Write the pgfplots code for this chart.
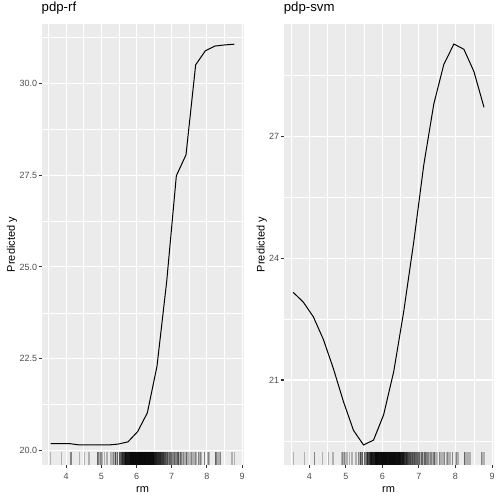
\documentclass[border=0pt]{standalone}
\usepackage{fontspec}
\setmainfont{Liberation Sans}
\usepackage{pgfplots}
\usepackage{pgfplotstable}
\pgfplotsset{compat=1.18}
\definecolor{ggbg}{HTML}{EBEBEB}
\definecolor{gray20}{HTML}{333333}
\definecolor{gray30}{HTML}{4D4D4D}

\pgfplotstableread[row sep=\\]{
rm\\
3.561\\ 3.863\\ 4.138\\ 4.138\\ 4.368\\ 4.519\\ 4.628\\ 4.652\\ 4.880\\ 4.903\\ 4.906\\ 4.926\\ 4.963\\ 4.970\\ 5.000\\ 5.012\\ 5.036\\ 5.093\\ 5.155\\ 5.186\\ 5.272\\ 5.304\\ 5.341\\ 5.344\\ 5.362\\ 5.390\\ 5.403\\ 5.404\\ 5.414\\ 5.427\\ 5.453\\ 5.456\\ 5.468\\
5.505\\ 5.512\\ 5.520\\ 5.531\\ 5.545\\ 5.553\\ 5.569\\ 5.572\\ 5.580\\ 5.588\\ 5.594\\ 5.597\\
5.602\\ 5.605\\ 5.608\\ 5.617\\ 5.627\\ 5.628\\ 5.637\\ 5.642\\ 5.648\\ 5.652\\ 5.655\\ 5.663\\ 5.669\\ 5.671\\ 5.675\\ 5.680\\ 5.683\\ 5.688\\ 5.691\\ 5.693\\ 5.696\\ 5.699\\
5.701\\ 5.705\\ 5.709\\ 5.713\\ 5.717\\ 5.721\\ 5.725\\ 5.729\\ 5.733\\ 5.737\\ 5.741\\ 5.745\\ 5.749\\ 5.753\\ 5.757\\ 5.761\\ 5.765\\ 5.769\\ 5.773\\ 5.777\\ 5.781\\ 5.785\\ 5.789\\ 5.793\\ 5.797\\
5.802\\ 5.805\\ 5.808\\ 5.811\\ 5.814\\ 5.817\\ 5.820\\ 5.823\\ 5.826\\ 5.829\\ 5.832\\ 5.835\\ 5.838\\ 5.841\\ 5.844\\ 5.847\\ 5.850\\ 5.853\\ 5.856\\ 5.859\\ 5.862\\ 5.865\\ 5.868\\ 5.871\\ 5.874\\ 5.877\\ 5.880\\ 5.883\\ 5.886\\ 5.889\\ 5.892\\ 5.895\\
5.900\\ 5.903\\ 5.906\\ 5.909\\ 5.912\\ 5.915\\ 5.918\\ 5.921\\ 5.924\\ 5.927\\
5.930\\ 5.933\\ 5.936\\ 5.939\\ 5.942\\ 5.945\\ 5.948\\ 5.951\\ 5.954\\ 5.957\\
5.960\\ 5.963\\ 5.966\\ 5.969\\ 5.972\\ 5.975\\ 5.978\\ 5.981\\ 5.984\\ 5.987\\
5.990\\ 5.993\\ 5.996\\ 5.999\\ 6.002\\ 6.005\\ 6.008\\ 6.011\\ 6.014\\ 6.017\\
6.020\\ 6.023\\ 6.026\\ 6.029\\ 6.032\\ 6.035\\ 6.038\\ 6.041\\ 6.044\\ 6.047\\
6.050\\ 6.053\\ 6.056\\ 6.059\\ 6.062\\ 6.065\\ 6.068\\ 6.071\\ 6.074\\ 6.077\\
6.080\\ 6.083\\ 6.086\\ 6.089\\ 6.092\\ 6.095\\ 6.098\\ 6.101\\ 6.104\\ 6.107\\
6.110\\ 6.113\\ 6.116\\ 6.119\\ 6.122\\ 6.125\\ 6.128\\ 6.131\\ 6.134\\ 6.137\\
6.140\\ 6.143\\ 6.146\\ 6.149\\ 6.152\\ 6.155\\ 6.158\\ 6.161\\ 6.164\\ 6.167\\
6.170\\ 6.173\\ 6.176\\ 6.179\\ 6.182\\ 6.185\\ 6.188\\ 6.191\\ 6.194\\ 6.197\\
6.200\\ 6.203\\ 6.206\\ 6.209\\ 6.212\\ 6.215\\ 6.218\\ 6.221\\ 6.224\\ 6.227\\
6.230\\ 6.233\\ 6.236\\ 6.239\\ 6.242\\ 6.245\\ 6.248\\ 6.251\\ 6.254\\ 6.257\\
6.260\\ 6.263\\ 6.266\\ 6.269\\ 6.272\\ 6.275\\ 6.278\\ 6.281\\ 6.284\\ 6.287\\
6.290\\ 6.293\\ 6.296\\ 6.299\\ 6.302\\ 6.305\\ 6.308\\ 6.311\\ 6.314\\ 6.317\\
6.320\\ 6.323\\ 6.326\\ 6.329\\ 6.332\\ 6.335\\ 6.338\\ 6.341\\ 6.344\\ 6.347\\
6.350\\ 6.353\\ 6.356\\ 6.359\\ 6.362\\ 6.365\\ 6.368\\ 6.371\\ 6.374\\ 6.377\\
6.380\\ 6.383\\ 6.386\\ 6.389\\ 6.392\\ 6.395\\ 6.398\\ 6.401\\ 6.404\\ 6.407\\
6.410\\ 6.413\\ 6.416\\ 6.419\\ 6.422\\ 6.425\\ 6.428\\ 6.431\\ 6.434\\ 6.437\\
6.440\\ 6.443\\ 6.446\\ 6.449\\ 6.452\\ 6.455\\ 6.458\\ 6.461\\ 6.464\\ 6.467\\
6.470\\ 6.473\\ 6.476\\ 6.479\\ 6.482\\ 6.485\\ 6.488\\ 6.491\\ 6.494\\ 6.497\\
6.500\\ 6.504\\ 6.508\\ 6.512\\ 6.516\\ 6.520\\ 6.524\\ 6.528\\ 6.532\\ 6.536\\ 6.540\\ 6.544\\ 6.548\\ 6.552\\ 6.556\\ 6.560\\ 6.564\\ 6.568\\ 6.572\\ 6.576\\ 6.580\\ 6.584\\ 6.588\\ 6.592\\ 6.596\\
6.602\\ 6.607\\ 6.612\\ 6.617\\ 6.622\\ 6.627\\ 6.632\\ 6.637\\ 6.642\\ 6.647\\ 6.652\\ 6.657\\ 6.662\\ 6.667\\ 6.672\\ 6.677\\ 6.682\\ 6.687\\ 6.692\\ 6.697\\
6.703\\ 6.710\\ 6.717\\ 6.724\\ 6.731\\ 6.738\\ 6.745\\ 6.752\\ 6.759\\ 6.766\\ 6.773\\ 6.780\\ 6.787\\ 6.794\\
6.804\\ 6.812\\ 6.820\\ 6.828\\ 6.836\\ 6.844\\ 6.852\\ 6.860\\ 6.868\\ 6.876\\ 6.884\\ 6.892\\
6.905\\ 6.915\\ 6.925\\ 6.935\\ 6.945\\ 6.955\\ 6.965\\ 6.975\\ 6.985\\ 6.995\\
7.007\\ 7.016\\ 7.024\\ 7.041\\ 7.061\\ 7.070\\ 7.079\\ 7.088\\ 7.096\\
7.104\\ 7.135\\ 7.147\\ 7.155\\ 7.163\\ 7.178\\ 7.185\\ 7.193\\
7.203\\ 7.236\\ 7.241\\ 7.249\\ 7.267\\ 7.287\\
7.313\\ 7.327\\ 7.333\\ 7.358\\ 7.393\\
7.412\\ 7.416\\ 7.420\\ 7.454\\ 7.470\\
7.520\\ 7.561\\ 7.569\\ 7.597\\
7.610\\ 7.645\\ 7.686\\ 7.691\\
7.765\\ 7.770\\ 7.790\\
7.820\\ 7.831\\ 7.853\\
7.923\\ 7.929\\
8.006\\ 8.034\\ 8.040\\ 8.069\\
8.247\\ 8.259\\ 8.266\\ 8.297\\ 8.247\\
8.337\\ 8.351\\ 8.375\\ 8.398\\
8.704\\ 8.725\\ 8.780\\
}\rugdata

\pgfplotstableread{
x y
3.561 20.19
3.836 20.19
4.110 20.19
4.385 20.155
4.660 20.155
4.934 20.155
5.209 20.155
5.484 20.18
5.758 20.24
6.033 20.52
6.308 21.03
6.582 22.30
6.857 24.60
7.132 27.48
7.406 28.05
7.681 30.50
7.956 30.88
8.231 31.01
8.505 31.04
8.780 31.06
}\rfdata

\pgfplotstableread{
x y
3.561 23.16
3.836 22.92
4.110 22.56
4.385 22.00
4.660 21.28
4.934 20.47
5.209 19.76
5.484 19.40
5.758 19.52
6.033 20.14
6.308 21.20
6.582 22.68
6.857 24.40
7.132 26.30
7.406 27.80
7.681 28.78
7.956 29.28
8.231 29.15
8.505 28.60
8.780 27.72
}\svmdata

\pgfplotsset{
  gg/.style={
    scale only axis, anchor=south west,
    height=441pt,
    axis background/.style={fill=ggbg},
    axis line style={draw=none},
    tick align=outside, tick pos=left,
    major tick length=2.75pt, minor tick length=0pt,
    major tick style={gray20, line width=1.07pt},
    grid=both,
    major grid style={white, line width=1.07pt},
    minor grid style={white, line width=0.53pt},
    xmin=3.30, xmax=9.04,
    xtick={4,5,6,7,8,9},
    minor xtick={3.5,4.5,5.5,6.5,7.5,8.5},
    tick label style={font=\fontsize{9}{10}\selectfont, text=gray30},
    /pgf/number format/assume math mode=true,
    xticklabel style={inner sep=0pt, anchor=north, yshift=-5.5pt},
    yticklabel style={inner sep=0pt, anchor=east, xshift=-1.5pt},
    label style={font=\fontsize{11}{13}\selectfont, text=black},
    xlabel={rm}, ylabel={Predicted y},
    xlabel style={at={(axis description cs:0.5,0)}, anchor=base, yshift=-27.7pt, inner sep=0pt},
    title style={at={(axis description cs:0,1)}, anchor=base west, yshift=6.5pt, inner sep=0pt, font=\fontsize{13.2}{15}\selectfont},
  },
  rug/.style={only marks, mark=|, mark size=6.6pt,
    mark options={draw=black, draw opacity=0.25, line width=1.07pt}},
}

\begin{document}
\begin{tikzpicture}
\path[use as bounding box] (0,0) rectangle (500pt,500pt);

\begin{axis}[gg, at={(41.5pt,35pt)}, width=202pt,
  title={pdp-rf},
  ymin=19.61, ymax=31.61,
  ytick={20,22.5,25,27.5,30},
  minor ytick={21.25,23.75,26.25,28.75,31.25},
  yticklabel style={/pgf/number format/.cd, fixed, fixed zerofill, precision=1},
  ylabel style={at={(axis description cs:-0.1312,0.5)}, anchor=base, inner sep=0pt},
]
\addplot[black, line width=1pt, no marks] table[x=x, y=y] {\rfdata};
\addplot[rug] table[x=rm, y=rm, y expr=19.79] {\rugdata};
\end{axis}

\begin{axis}[gg, at={(283.7pt,35pt)}, width=209.8pt,
  title={pdp-svm},
  ymin=18.906, ymax=29.774,
  ytick={21,24,27},
  minor ytick={19.5,22.5,25.5,28.5},
  ylabel style={at={(axis description cs:-0.0915,0.5)}, anchor=base, inner sep=0pt},
]
\addplot[black, line width=1pt, no marks] table[x=x, y=y] {\svmdata};
\addplot[rug] table[x=rm, y=rm, y expr=19.069] {\rugdata};
\end{axis}
\end{tikzpicture}
\end{document}
